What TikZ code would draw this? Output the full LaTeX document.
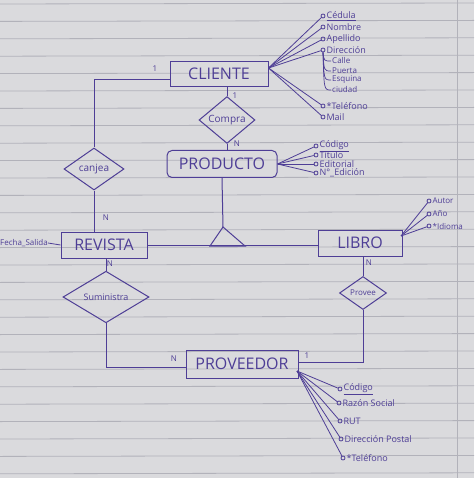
\documentclass[tikz,border=0pt]{standalone}
\usepackage{fontspec}
\setmainfont{Open Sans}
\usetikzlibrary{shapes.geometric}
\definecolor{papel}{RGB}{218,218,221}
\definecolor{renglon}{RGB}{178,178,186}
\definecolor{tinta}{RGB}{78,62,150}
\begin{document}
\begin{tikzpicture}[x=1pt,y=-1pt,
    entidad/.style={draw=tinta, line width=1pt, text=tinta, inner sep=0pt, font=\fontsize{16}{18}\selectfont},
    relacion/.style={draw=tinta, line width=1pt, diamond, inner sep=0pt, text=tinta},
    atrib/.style={draw=tinta, line width=0.8pt, circle, inner sep=0pt, minimum size=4pt},
    etiq/.style={text=tinta, anchor=west, inner sep=1pt, font=\fontsize{9}{10}\selectfont},
    card/.style={text=tinta, inner sep=0pt, font=\fontsize{8}{9}\selectfont},
    linea/.style={draw=tinta, line width=1pt}]

    \useasboundingbox (0,0) rectangle (474,478);
    \fill[papel] (0,0) rectangle (474,478);
    \foreach \k in {0,...,27}{
        \draw[renglon, line width=0.8pt] (0,{4+17.4*\k}) -- (474,{3+17.4*\k});
    }
    \draw[renglon, line width=0.6pt] (457,0) -- (457,478);

    % entidades
    \node[entidad, minimum width=98pt, minimum height=25pt] (cliente) at (219,74) {CLIENTE};
    \node[entidad, rounded corners=5pt, minimum width=110pt, minimum height=27pt] (producto) at (222,164) {PRODUCTO};
    \node[entidad, minimum width=86pt, minimum height=26pt] (revista) at (104,245) {REVISTA};
    \node[entidad, minimum width=84pt, minimum height=26pt] (libro) at (360,243) {LIBRO};
    \node[entidad, minimum width=112pt, minimum height=28pt] (proveedor) at (242,364) {PROVEEDOR};

    % relaciones
    \node[relacion, minimum width=60pt, minimum height=42pt, font=\fontsize{10}{11}\selectfont] (canjea) at (94,169) {canjea};
    \node[relacion, minimum width=56pt, minimum height=28pt, font=\fontsize{10}{11}\selectfont] (compra) at (227,120) {Compra};
    \node[relacion, minimum width=86pt, minimum height=48pt, font=\fontsize{9}{10}\selectfont] (suministra) at (106,297) {Suministra};
    \node[relacion, minimum width=47pt, minimum height=33pt, font=\fontsize{8}{9}\selectfont] (provee) at (363,293) {Provee};

    % conectores
    \draw[linea] ([yshift=-6pt]cliente.west) -| (canjea.north);
    \draw[linea] (canjea.south) -- (canjea.south |- revista.north);
    \draw[linea] (compra.north) -- (compra.north |- cliente.south);
    \draw[linea] (compra.south) -- (compra.south |- producto.north);
    \draw[linea] (revista.east) -- (libro.west |- revista.east);
    \coordinate (isa) at (223,227);
    \draw[linea] (producto.south) -- (isa);
    \draw[linea] (isa) -- ++(-13,19) -- ++(35,0) -- cycle;
    \draw[linea] (provee.north) -- (provee.north |- libro.south);
    \draw[linea] (provee.south) |- ([yshift=2pt]proveedor.east);
    \draw[linea] (suministra.north |- revista.south) -- (suministra.north);
    \draw[linea] (suministra.south) |- ([yshift=-3pt]proveedor.west);

    % cardinalidades
    \node[card] (c1) at (155,69) {1};
    \node[card] (c2) at (106,218) {N};
    \node[card] (c3) at (235,96) {1};
    \node[card] (c4) at (237,144) {N};
    \node[card] (c5) at (110,264) {N};
    \node[card] (c6) at (174,359) {N};
    \node[card] (c7) at (307,356) {1};
    \node[card] (c8) at (369,263) {N};

    % atributos de CLIENTE
    \coordinate (hub1) at ([yshift=6pt]cliente.east);
    \foreach \n/\y/\t in {ced/16/{\underline{Cédula}}, nom/27/Nombre, ape/39/Apellido,
                          dir/50/Dirección, tel/106/{*Teléfono}, mail/117/Mail}{
        \node[atrib] (c\n) at (323,\y) {};
        \node[etiq] at (c\n.east) {\t};
        \draw[linea, line width=0.8pt] (hub1) -- (c\n);
    }
    \foreach \n/\y/\t in {calle/61/Calle, puerta/71/Puerta, esq/80/Esquina, ciu/90/ciudad}{
        \node[etiq, font=\fontsize{8}{9}\selectfont] (s\n) at (331,\y) {\t};
        \draw[linea, line width=0.7pt] (cdir.south) .. controls (324,\y) .. (s\n.west);
    }

    % atributos de PRODUCTO
    \coordinate (hub2) at (producto.east);
    \foreach \n/\y/\t in {cod/146/{\underline{Código}}, tit/155/Título, edi/164/Editorial, ned/173/{N°\_Edición}}{
        \node[atrib] (p\n) at (316,\y) {};
        \node[etiq] at (p\n.east) {\t};
        \draw[linea, line width=0.8pt] (hub2) -- (p\n);
    }

    % atributos de LIBRO
    \coordinate (hub3) at (401,236);
    \foreach \n/\y/\t in {aut/201/Autor, ano/214/Año, idi/226/{*Idioma}}{
        \node[atrib] (l\n) at (429,\y) {};
        \node[etiq, font=\fontsize{8}{9}\selectfont] at (l\n.east) {\t};
        \draw[linea, line width=0.8pt] (hub3) -- (l\n);
    }

    % atributo de REVISTA
    \node[text=tinta, anchor=west, inner sep=0pt, font=\fontsize{8}{9}\selectfont] (fecha) at (0,243) {Fecha\_Salida};
    \draw[linea, line width=0.8pt] (fecha.east) -- (revista.west);

    % atributos de PROVEEDOR
    \coordinate (hub4) at (297,371);
    \foreach \n/\x/\y/\t in {cod/340/389/{\underline{Código}}, raz/339/403/Razón Social, rut/340/421/RUT,
                             dpo/341/439/Dirección Postal, tel/343/458/{*Teléfono}}{
        \node[atrib] (v\n) at (\x,\y) {};
        \node[etiq] at (v\n.east) {\t};
        \draw[linea, line width=0.8pt] (hub4) -- (v\n);
    }
\end{tikzpicture}
\end{document}
